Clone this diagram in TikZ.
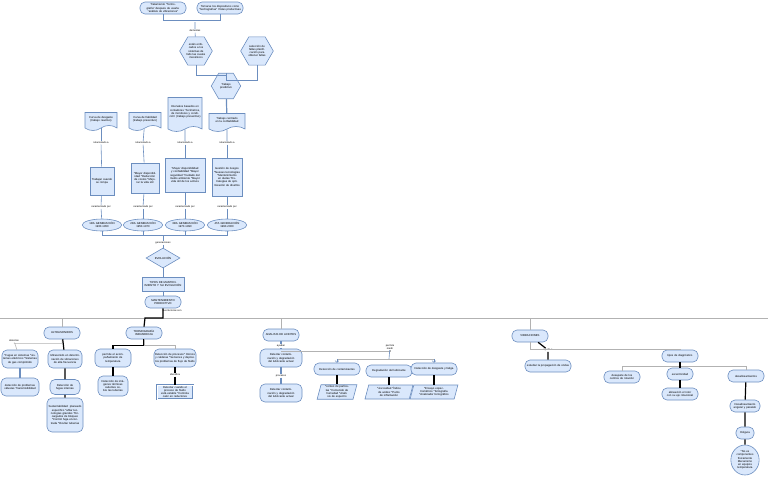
\documentclass[tikz,border=0pt]{standalone}
\usepackage{fontspec}
\setmainfont{Liberation Sans}
\usetikzlibrary{shapes.geometric,shapes.symbols}
\definecolor{fbF}{HTML}{DAE8FC}
\definecolor{fbD}{HTML}{6C8EBF}
\begin{document}
\begin{tikzpicture}[x=1pt,y=-1pt,
 every node/.style={font=\fontsize{2.8}{3.3}\selectfont,align=center,inner sep=1pt},
 fb/.style={draw=fbD,fill=fbF,line width=0.6pt},
 rr/.style={fb,rounded corners=5pt,minimum height=12pt},
 bx/.style={fb,minimum height=14pt},
 hx/.style={fb,regular polygon,regular polygon sides=6,minimum size=24pt,inner sep=0pt},
 dc/.style={fb,tape,tape bend top=none,minimum height=18pt},
 pg/.style={fb,trapezium,trapezium left angle=75,trapezium right angle=105,minimum height=14pt},
 lab/.style={font=\fontsize{2.5}{3}\selectfont,inner sep=0.5pt},
 ln/.style={draw=fbD,line width=0.6pt},
 tk/.style={line width=1.2pt},
 gl/.style={draw=gray!60,line width=1pt}]
\useasboundingbox (0,0) rectangle (768,485);
\node[rr,text width=44pt] (t1) at (163,8) {Tratamiento ``Termografía'' después de usarla: ``análisis de vibraciones''};
\node[rr,text width=44pt] (t2) at (220,8) {Tomarse los dispositivos como ``hechografías'' Vistas productivas};
\node[lab] (dem) at (195,31) {dementes};
\node[hx,text width=20pt] (h1) at (196,51) {están enfocados a los sistemas de fallo las cuales mecánicos};
\node[hx,text width=20pt] (h2) at (257,51) {selección de fallas planificación para obtener fallas};
\node[hx,text width=18pt,minimum size=20pt] (h3) at (226,86) {Trabajo predictivo};
\draw[ln] (t1.south)--++(0,6)-|(t2.south); \draw[ln] (195,22)--(dem)--(h1);
\draw[ln] (h1.south)--++(0,10)-|(h3.north); \draw[ln] (h2.south)--++(0,15)-|(h3.north);
\node[dc,text width=30pt] (d1) at (101,119) {Curva de desgaste (trabajo reactivo)};
\node[dc,text width=30pt] (d2) at (145,119) {Curva de fiabilidad (trabajo preventivo)};
\node[dc,text width=32pt,minimum height=34pt] (d3) at (185,112) {Intervalos basados en contadores ``horímetros, de monitoreo y condición' (trabajo preventivo)};
\node[dc,text width=34pt] (d4) at (227,120) {Trabajo centrado en la confiabilidad};
\draw[ln,line width=1.2pt] (h3)--(d4);
\foreach \i/\x in {1/101,2/143,3/185,4/227}{\node[lab] (r\i) at (\x,143) {relacionado a};
 \node[lab] (c\i) at (\x,207) {caracterizado por};}
\node[bx,text width=22pt,minimum height=28pt] (b1) at (102,181) {Trabajar cuando se rompa};
\node[bx,text width=26pt,minimum height=30pt] (b2) at (145,178) {*Mayor disponibilidad *Reducción de costos *Mejorar la vida útil};
\node[bx,text width=38pt,minimum height=34pt] (b3) at (185,175) {*Mayor disponibilidad y confiabilidad *Mayor seguridad *Cuidado del medio ambiente *Mayor vida útil de los activos};
\node[bx,text width=28pt,minimum height=38pt] (b4) at (227,177) {Gestión de riesgos *Nuevas tecnologías *Mantenimiento en dudas *Estrategias de optimización de diseños};
\node[rr,ellipse,text width=26pt] (g1) at (102,225) {1RA GENERACIÓN 1930-1950};
\node[rr,ellipse,text width=26pt] (g2) at (143,225) {2DA GENERACIÓN 1950-1970};
\node[rr,ellipse,text width=26pt] (g3) at (185,225) {3RA GENERACIÓN 1970-1990};
\node[rr,ellipse,text width=26pt] (g4) at (227,225) {4TA GENERACIÓN 1990-2000};
\foreach \i in {1,2,3,4}{\draw[ln] (r\i)--(d\i); \draw[ln] (r\i)--(b\i); \draw[ln] (c\i)--(b\i); \draw[ln] (c\i)--(g\i);}
\node[lab] (gen) at (163,243) {generaciones};
\foreach \i in {1,2,3,4}{\draw[ln] (g\i.south)--++(0,4)-|(gen.north);}
\node[fb,diamond,aspect=1.6,inner sep=0pt,minimum width=34pt,minimum height=20pt] (ev) at (163,258) {EVOLUCIÓN};
\node[bx,text width=40pt] (tp) at (163,284) {TIPOS DE MANTENIMIENTO Y SU EVOLUCIÓN};
\node[rr,text width=34pt] (mp) at (163,302) {MANTENIMIENTO PREDICTIVO};
\node[lab] at (172,311) {Sus técnicas son};
\draw[ln] (gen)--(ev)--(tp)--(mp);
\draw[gl] (0,318)--(768,318);
\node[rr,text width=34pt] (us) at (62,333) {ULTRASONIDOS};
\node[rr,text width=34pt] (ti) at (144,333) {TERMOGRAFÍA INFRARROJA};
\node[rr,text width=34pt] (aa) at (281,335) {ANALISIS DE ACEITES};
\node[rr,text width=34pt] (vb) at (530,336) {VIBRACIONES};
\draw[tk] (mp.south)--(163,318)--(145,318)--(ti.north);
\draw[gl] (62,318)--(us.north); \draw[gl] (281,318)--(aa.north); \draw[gl] (530,318)--(vb.north);
\node[lab] (det) at (14,341) {detectan};
\node[rr,text width=34pt,minimum height=18pt] (u1) at (20,359) {*Fugas en sistemas *sistemas eléctricos *Sistemas de gas comprimido};
\node[rr,text width=36pt,minimum height=18pt] (u2) at (20,387) {detección de problemas válvulas Transmisibilidad};
\node[rr,text width=32pt,minimum height=18pt] (u3) at (65,359) {Ultrasonido en determinación de vibraciones de alta frecuencia};
\node[rr,text width=28pt,minimum height=15pt] (u4) at (65,387) {Detección de fugas internas};
\node[rr,text width=34pt,minimum height=34pt] (u5) at (65,415) {Sustentabilidad: planeado específico *afilar tecnologías grandes *Encargados de bloqueo *Control fuga encontrada *Ocultar tuberías};
\draw[gl,line width=0.5pt] (us.south)--++(0,4)-|(det)--(u1); \draw[ln,tk] (u1)--(u2);
\draw[tk] (us)--(u3)--(u4)--(u5);
\node[rr,text width=34pt,minimum height=18pt] (e1) at (113,358) {permite el acompañamiento de temperatura};
\node[rr,text width=28pt,minimum height=20pt] (e2) at (113,386) {Detección de imágenes térmicas calientes sobre las tuberías};
\node[rr,text width=40pt,minimum height=18pt] (e3) at (175,358) {Detección de procesos* Hornos y calderas *Sensores y depósitos problemas de flujo de fluido};
\node[lab] (id) at (175,375) {identifica};
\node[bx,text width=34pt,minimum height=12pt,double] (e4) at (175,392) {Detectar cuando el proceso de fluido está estable *Controla calor en reductores};
\draw[tk] (ti.south)--++(0,6)-|(e1.north); \draw[gl,line width=0.5pt] (ti.south)--++(0,6)-|(e3.north);
\draw[tk] (e1)--(e2); \draw[tk] (e3)--(id)--(e4);
\node[rr,text width=40pt,minimum height=18pt] (a1) at (281,358) {Detectar contaminación y degradación del lubricante actual};
\node[lab] (ay) at (281,346) {ayudan};
\node[lab] (pe) at (281,376) {procesos};
\node[rr,text width=40pt,minimum height=18pt] (a2) at (281,393) {Detectar contaminación y degradación del lubricante actual};
\draw[ln,tk] (aa)--(ay)--(a1)--(pe)--(a2);
\node[lab,text width=14pt] (pm) at (390,347) {permite medir};
\node[rr,text width=44pt] (a3) at (337,369) {Detección de contaminantes};
\node[rr,text width=44pt] (a4) at (389,371) {Degradación del lubricante};
\node[rr,text width=44pt] (a5) at (434,369) {Detección de desgaste y fatiga};
\node[pg,text width=30pt] (p3) at (337,392) {*conteo de partículas *Contenido de humedad *Análisis de espectro};
\node[pg,text width=30pt] (p4) at (389,392) {*viscosidad *Índice de acidez *Punto de inflamación};
\node[pg,text width=30pt] (p5) at (434,392) {*Ensayo espectrométrico *ferrografía *Analizador ferrográfico};
\draw[gl,line width=0.5pt] (281,351)-|(pm); \draw[ln] (pm)--(389,359);
\draw[gl,line width=0.5pt] (337,359)--(434,359); \draw[ln,->] (337,359)--(a3); \draw[ln,->] (434,359)--(a5);
\foreach \i in {3,4,5}{\draw[tk] (a\i)--(p\i);}
\node[lab,text width=10pt] (aya) at (548,350) {ayuda a};
\node[rr,text width=44pt] (v1) at (548,366) {estudiar la propagación de ondas};
\node[rr,text width=34pt] (v2) at (680,356) {tipos de diagnóstico};
\draw[tk] (vb)--(aya)--(v1); \draw[gl,line width=0.5pt] (vb.south)--++(0,7)-|(v2.north);
\node[rr,text width=34pt] (v3) at (622,377) {desajuste de los centros de rotación};
\node[rr,text width=24pt] (v4) at (680,374) {excentricidad};
\node[rr,text width=34pt] (v5) at (746,376) {desalineamientos};
\draw[gl,line width=0.5pt] (v2.south)--++(0,4)-|(v3.north); \draw[gl,line width=0.5pt] (v2.south)--++(0,4)-|(v5.north); \draw[tk] (v2)--(v4);
\node[rr,text width=34pt] (v6) at (680,394) {alineación el rotor con su eje rotacional};
\node[rr,text width=28pt] (v7) at (745,406) {Desalineamiento angular y paralelo};
\node[rr,text width=16pt] (v8) at (745,433) {Holgura};
\node[fb,ellipse,text width=18pt,minimum height=30pt] (v9) at (745,460) {*No es componentes físicamente Mecanismo en equipos temperatura};
\draw[tk] (v4)--(v6); \draw[tk] (v5)--(v7)--(v8)--(v9);
\end{tikzpicture}
\end{document}
